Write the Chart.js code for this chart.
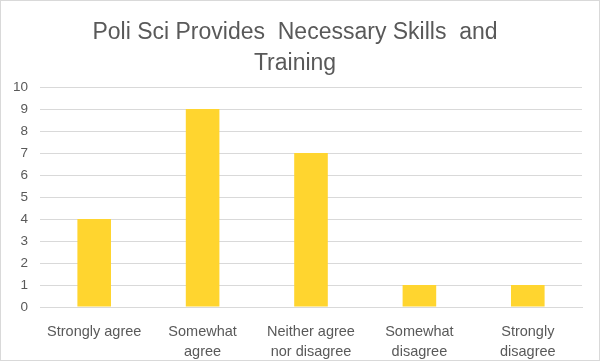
<!DOCTYPE html>
<html><head><meta charset="utf-8">
<script src="https://cdn.jsdelivr.net/npm/chart.js@4/dist/chart.umd.min.js"></script>
<style>html,body{margin:0;padding:0;background:#fff}#wrap{width:600px;height:361px;position:relative}</style>
</head><body><div id="wrap"><canvas id="c" width="600" height="361"></canvas></div>
<script>
const titleLines = ['Poli Sci Provides  Necessary Skills  and', 'Training'];
const categories = [['Strongly agree'], ['Somewhat', 'agree'], ['Neither agree', 'nor disagree'], ['Somewhat', 'disagree'], ['Strongly', 'disagree']];
const counts = [4, 9, 7, 1, 1];
const yTicks = [0, 1, 2, 3, 4, 5, 6, 7, 8, 9, 10];

const borderPlugin = {
  id: 'frame',
  afterDraw(chart) {
    const ctx = chart.ctx;
    ctx.save();
    ctx.strokeStyle = '#d9d9d9';
    ctx.lineWidth = 1;
    ctx.strokeRect(0.5, 0.5, chart.width - 1, chart.height - 1);
    ctx.restore();
  }
};

new Chart(document.getElementById('c'), {
  type: 'bar',
  data: {
    labels: categories,
    datasets: [{ data: counts, backgroundColor: '#FFD52F', barPercentage: 0.62, categoryPercentage: 0.5 }]
  },
  options: {
    responsive: false,
    animation: false,
    layout: { padding: { left: 8, right: 18, top: 13, bottom: 0 } },
    plugins: {
      legend: { display: false },
      tooltip: { enabled: false },
      title: {
        display: true, text: titleLines, color: '#595959',
        font: { family: 'Liberation Sans, Arial, sans-serif', size: 23, weight: 'normal', lineHeight: 1.35 },
        padding: { top: 4, bottom: 8 }
      }
    },
    scales: {
      x: {
        grid: { display: false, drawTicks: false },
        border: { display: true, color: '#d9d9d9' },
        afterFit(scale) { scale.height = 54; },
        ticks: { color: '#595959', font: { family: 'Liberation Sans, Arial, sans-serif', size: 14.5, lineHeight: 1.4 }, maxRotation: 0, padding: 15 }
      },
      y: {
        min: 0, max: 10,
        afterBuildTicks(scale) { scale.ticks = yTicks.map(v => ({ value: v })); },
        afterFit(scale) { scale.width = 32; },
        grid: { color: '#d9d9d9', drawTicks: false },
        border: { display: false },
        ticks: { color: '#595959', font: { family: 'Liberation Sans, Arial, sans-serif', size: 13.5 }, padding: 12 }
      }
    }
  },
  plugins: [borderPlugin]
});
</script></body></html>
